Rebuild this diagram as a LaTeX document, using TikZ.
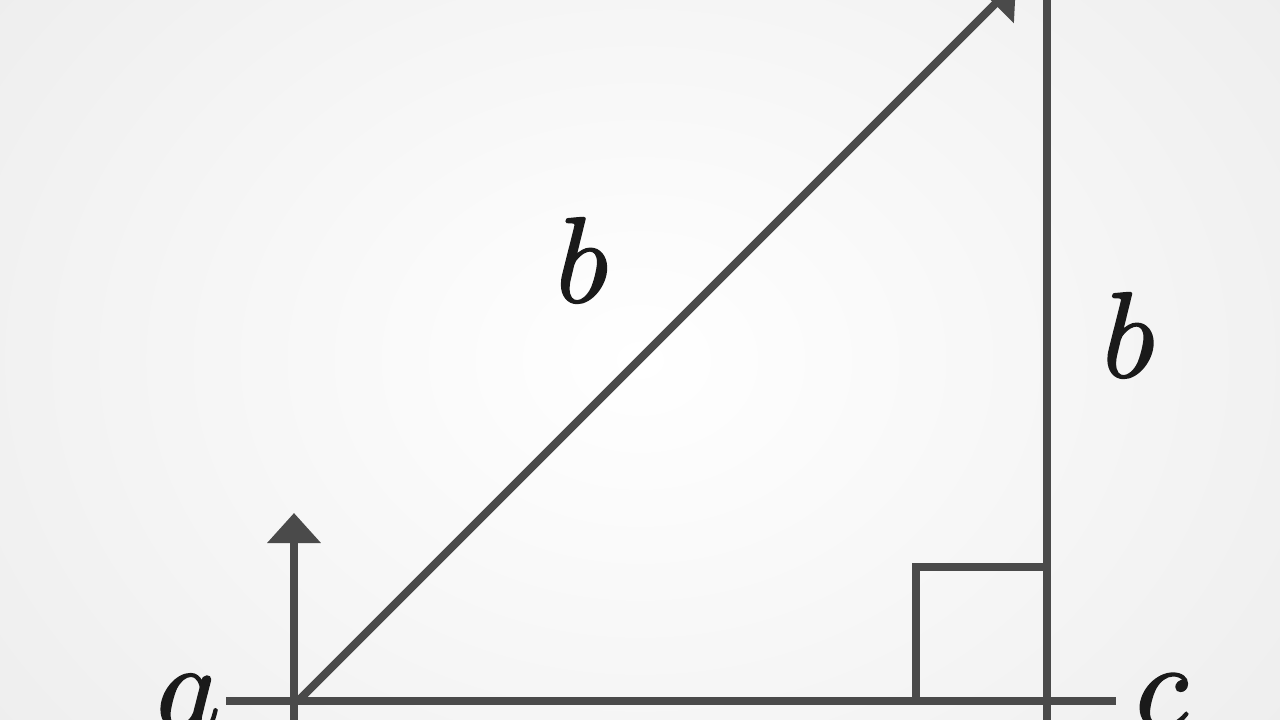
\documentclass[tikz,border=0pt]{standalone}
\usepackage{fontspec}
\newfontfamily\lmmath{Latin Modern Math}[FakeBold=1.2]
\usetikzlibrary{arrows.meta}
\definecolor{ink}{HTML}{4A4A4A}
\definecolor{txt}{HTML}{1A1A1A}
\begin{document}
\begin{tikzpicture}[x=0.75pt,y=-0.75pt,
  lineseg/.style={draw=ink,line width=6pt},
  arr/.style={lineseg,-{Triangle[length=22.5pt,width=39pt]}},
  lbl/.style={text=txt,inner sep=0pt,font=\fontsize{91.5}{100}\selectfont\lmmath}]
\useasboundingbox (0,0) rectangle (1280,720);
\clip (0,0) rectangle (1280,720);
\shade[inner color=white,outer color=black!7] (-200,-300) rectangle (1480,1020);
% coordinates
\coordinate (A) at (298,701);
\coordinate (Tip) at (1016,-17);
\coordinate (HL) at (226,701);
\coordinate (HR) at (1116,701);
\coordinate (VT) at (1046.5,-10);
\coordinate (VB) at (1046.5,730);
\coordinate (SB) at (294,730);
\coordinate (ST) at (294,513);
\coordinate (Q1) at (916,701);
\coordinate (Q2) at (916,567);
\coordinate (Q3) at (1046.5,567);
% lines
\draw[lineseg] (HL) -- (HR);
\draw[lineseg] (VT) -- (VB);
\draw[arr] (SB) -- (ST);
\draw[arr] (A) -- (Tip);
\draw[lineseg] (Q1) -- (Q2) -- (Q3);
% labels
\node[lbl] (bdiag) at (582,260.5) {𝑏};
\node[lbl] (bvert) at (1128.5,335.5) {𝑏};
\node[lbl,anchor=base west] (la) at (156,727.5) {𝑎};
\node[lbl,anchor=base west] (lc) at (1135,727) {𝑐};
\end{tikzpicture}
\end{document}
